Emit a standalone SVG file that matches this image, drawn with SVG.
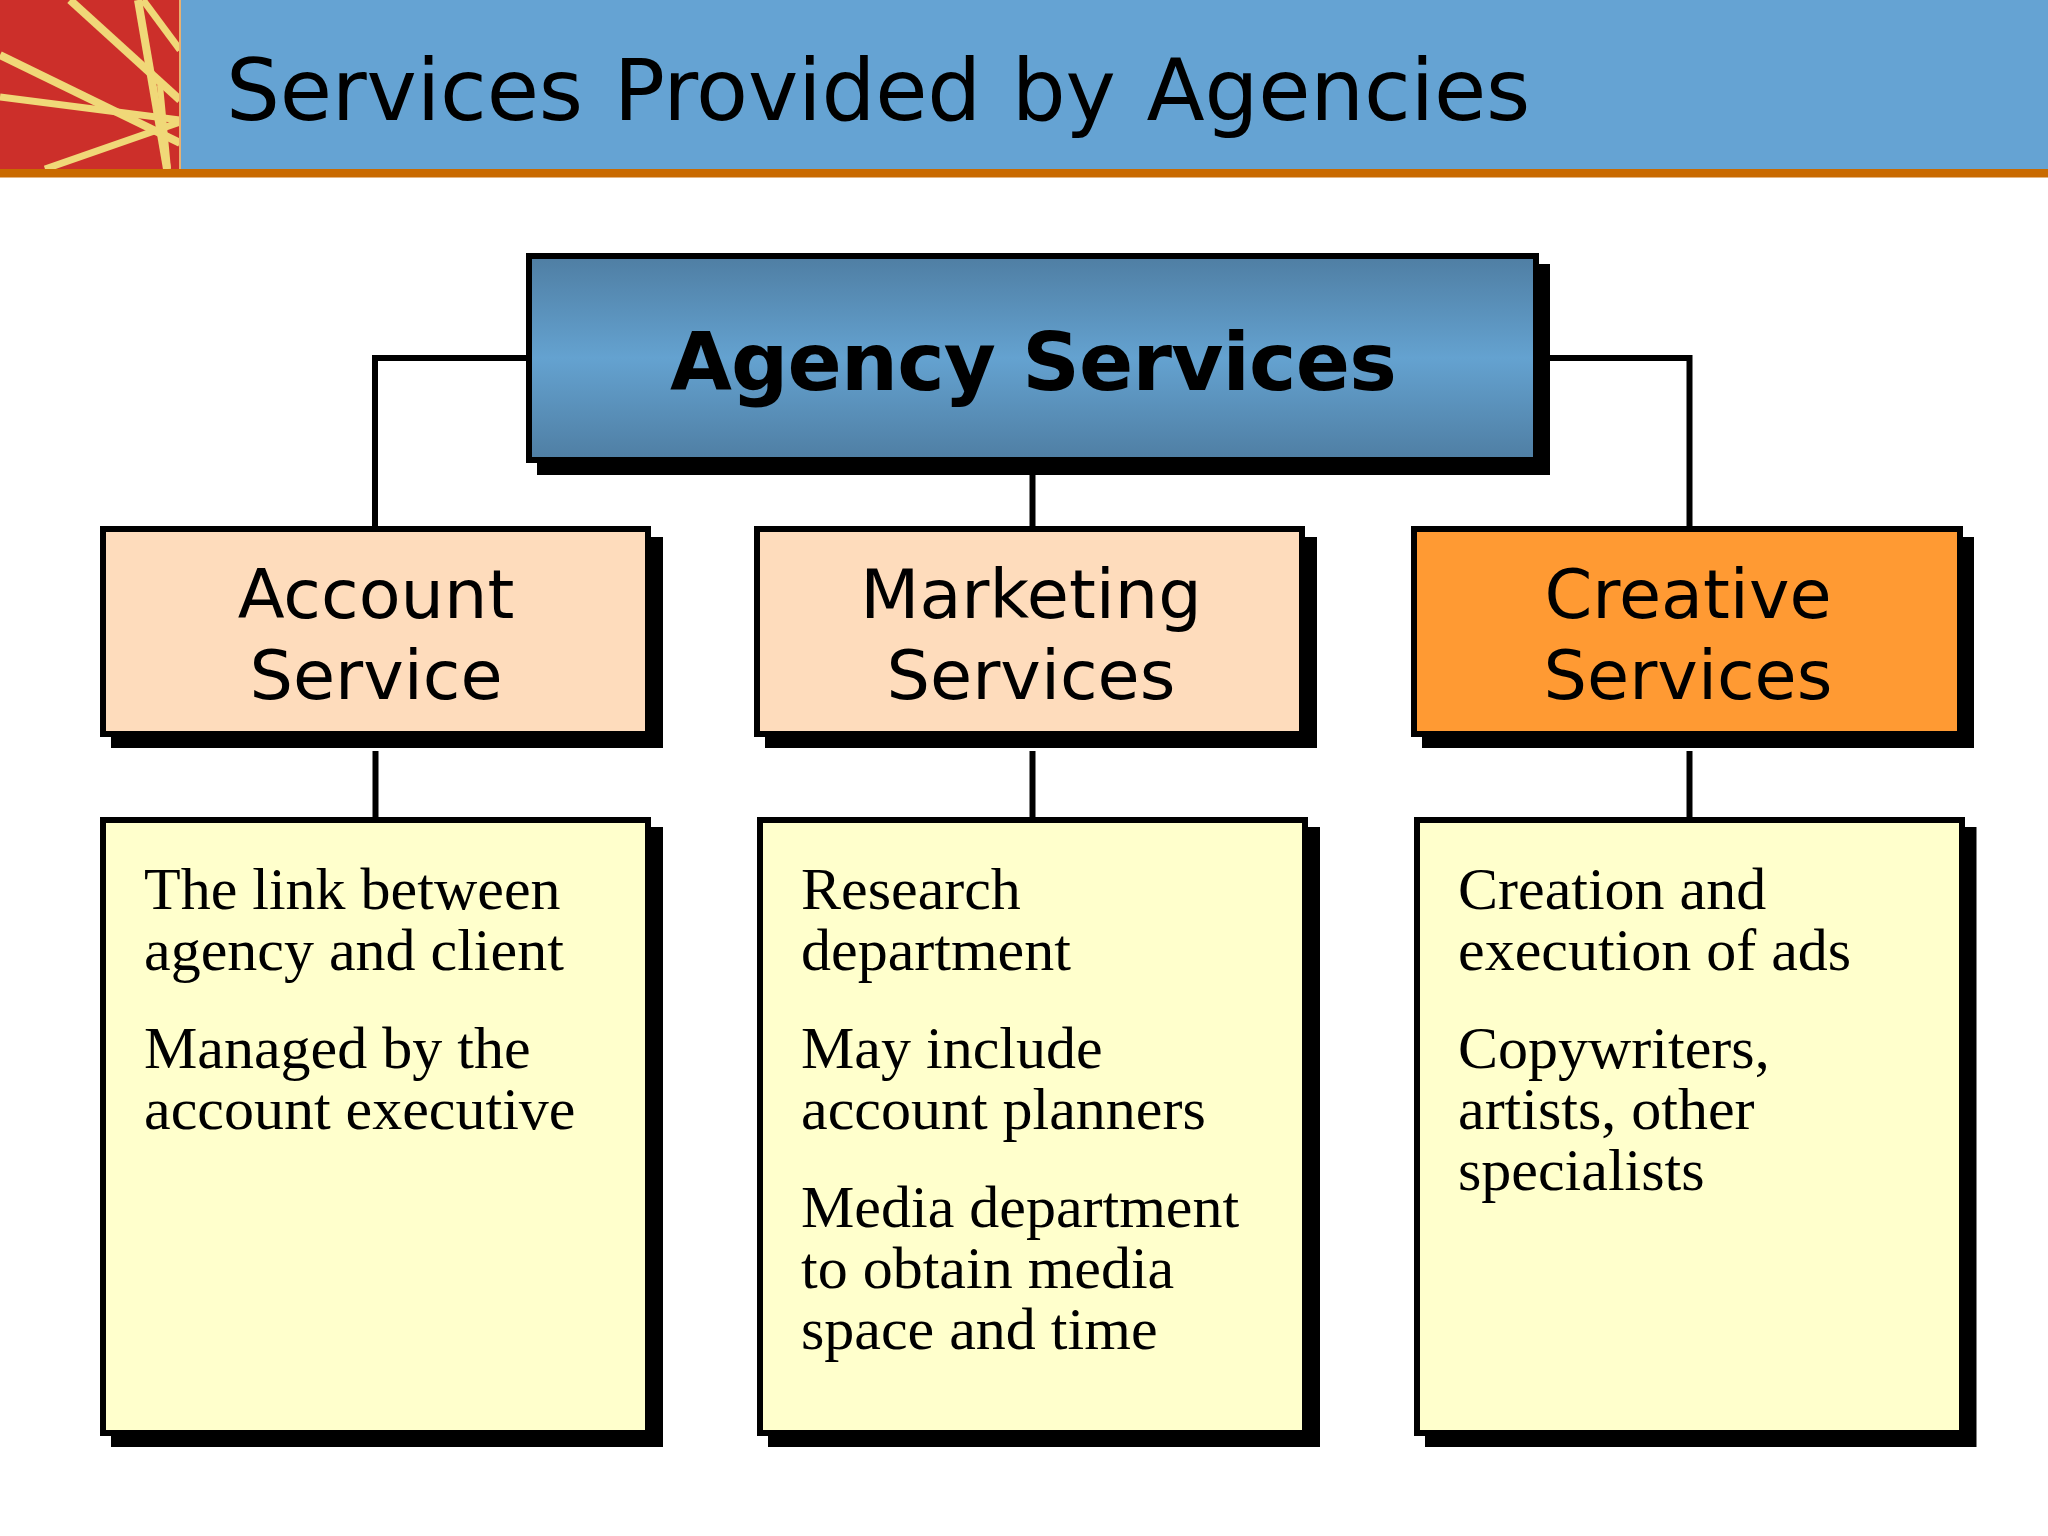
<svg xmlns="http://www.w3.org/2000/svg" width="2048" height="1536" viewBox="0 0 2048 1536">
<style>
.box{stroke:#000;stroke-width:6}
.sh{fill:#000}
.hd{font-family:"DejaVu Sans",sans-serif;font-size:68.5px;text-anchor:middle;fill:#000}
.bd{font-family:"Liberation Serif",serif;font-size:60px;fill:#000}
.cn{fill:none;stroke:#000;stroke-width:6}
.ln{fill:none;stroke:#f0d878}
</style>
<defs><linearGradient id="g" x1="0" y1="0" x2="0" y2="1"><stop offset="0" stop-color="#4f7ea3"/><stop offset="0.5" stop-color="#64a2d0"/><stop offset="1" stop-color="#4f7ea3"/></linearGradient>
<clipPath id="c"><rect width="180" height="169"/></clipPath></defs>
<rect width="2048" height="1536" fill="#fff"/>
<g id="banner">
<rect x="0" y="0" width="2048" height="169" fill="#65a3d3"/>
<rect x="0" y="0" width="180" height="169" fill="#cc2f2a"/>
<g class="ln" clip-path="url(#c)">
<path stroke-width="8" d="M70 0L180 100"/>
<path stroke-width="8" d="M0 55L180 143"/>
<path stroke-width="7" d="M0 97L180 120"/>
<path stroke-width="7" d="M45 169L180 122"/>
<path stroke-width="8" d="M138 0L167 169"/>
<path stroke-width="7" d="M143 0L180 50"/>
<path stroke-width="6" d="M160 85L168 169"/>
</g>
<rect x="179" y="0" width="2" height="169" fill="#e8b070"/>
<rect x="0" y="169" width="2048" height="8.5" fill="#c96a00"/>
<text x="226" y="120" font-family="DejaVu Sans, sans-serif" font-size="85" word-spacing="4" letter-spacing="-0.2" fill="#000">Services Provided by Agencies</text>
</g>
<g id="connectors">
<path class="cn" d="M526 358H375V526"/>
<path class="cn" d="M1545 358H1689.5V526"/>
<path class="cn" d="M1032.5 470V526"/>
<path class="cn" d="M375.5 751V817"/>
<path class="cn" d="M1032.5 751V817"/>
<path class="cn" d="M1689.5 751V817"/>
</g>
<g id="agency">
<rect class="sh" x="537" y="264" width="1013" height="211"/>
<rect class="box" x="529" y="256" width="1007" height="204" fill="url(#g)"/>
<text x="1033" y="390" font-family="DejaVu Sans, sans-serif" font-size="80" font-weight="bold" letter-spacing="-0.8" text-anchor="middle">Agency Services</text>
</g>
<g id="account">
<rect class="sh" x="111" y="537" width="552" height="211"/>
<rect class="box" x="103" y="529" width="545" height="205" fill="#fedcbc"/>
<text class="hd" x="376" y="618">Account</text>
<text class="hd" x="376" y="699">Service</text>
</g>
<g id="marketing">
<rect class="sh" x="765" y="537" width="552" height="211"/>
<rect class="box" x="757" y="529" width="545" height="205" fill="#fedcbc"/>
<text class="hd" x="1031" y="618">Marketing</text>
<text class="hd" x="1031" y="699">Services</text>
</g>
<g id="creative">
<rect class="sh" x="1422" y="537" width="552" height="211"/>
<rect class="box" x="1414" y="529" width="546" height="205" fill="#ff9a33"/>
<text class="hd" x="1688" y="618">Creative</text>
<text class="hd" x="1688" y="699">Services</text>
</g>
<g id="account-detail">
<rect class="sh" x="111" y="827" width="552" height="620"/>
<rect class="box" x="103" y="820" width="545" height="613" fill="#ffffcc"/>
<text class="bd" x="144" y="909">The link between</text>
<text class="bd" x="144" y="970">agency and client</text>
<text class="bd" x="144" y="1068">Managed by the</text>
<text class="bd" x="144" y="1129">account executive</text>
</g>
<g id="marketing-detail">
<rect class="sh" x="768" y="827" width="552" height="620"/>
<rect class="box" x="760" y="820" width="545" height="613" fill="#ffffcc"/>
<text class="bd" x="801" y="909">Research</text>
<text class="bd" x="801" y="970">department</text>
<text class="bd" x="801" y="1068">May include</text>
<text class="bd" x="801" y="1129">account planners</text>
<text class="bd" x="801" y="1227">Media department</text>
<text class="bd" x="801" y="1288">to obtain media</text>
<text class="bd" x="801" y="1349">space and time</text>
</g>
<g id="creative-detail">
<rect class="sh" x="1425" y="827" width="551.5" height="620"/>
<rect class="box" x="1417" y="820" width="545" height="613" fill="#ffffcc"/>
<text class="bd" x="1458" y="909">Creation and</text>
<text class="bd" x="1458" y="970">execution of ads</text>
<text class="bd" x="1458" y="1068">Copywriters,</text>
<text class="bd" x="1458" y="1129">artists, other</text>
<text class="bd" x="1458" y="1190">specialists</text>
</g>
</svg>
